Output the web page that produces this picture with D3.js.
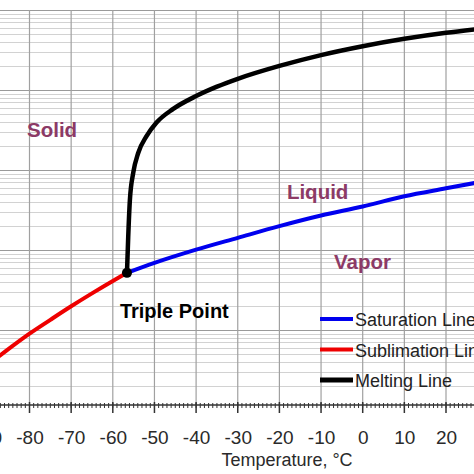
<!DOCTYPE html>
<html>
<head>
<meta charset="utf-8">
<script src="https://cdn.jsdelivr.net/npm/d3@7"></script>
<style>
  body { margin: 0; background: #fff; }
  svg { display: block; font-family: "Liberation Sans", Arial, sans-serif; }
</style>
</head>
<body>
<div id="chart"></div>
<script>
// temperature ticks (deg C), visible part of the axis
const tempTicks = [-90, -80, -70, -60, -50, -40, -30, -20, -10, 0, 10, 20, 30];

// pressure decades (bar), log axis, labels are cropped away
const pressureDecades = [0.1, 1, 10, 100, 1000, 10000];

// sublimation line, solid <-> vapor
const sublimationT = [-88, -85, -80, -75, -70, -65, -60, -56.6];
const sublimationP = [0.44, 0.58, 0.9, 1.34, 1.98, 2.87, 4.1, 5.18];

// saturation line, liquid <-> vapor
const saturationT = [-56.6, -50, -40, -30, -20, -10, 0, 10, 20, 27];
const saturationP = [5.18, 6.9, 10.1, 14.2, 19.9, 27, 35, 47, 59, 69];

// melting line, solid <-> liquid
const meltingT = [-56.6, -56.3, -55.9, -55.1, -53.9, -51.9, -49.5, -45.5, -40, -35, -30, -20, -10, 0, 10, 20, 27];
const meltingP = [5.18, 14.5, 42, 92, 163, 265, 392, 580, 840, 1100, 1380, 2000, 2730, 3525, 4365, 5190, 5740];

const triplePoint = [-56.6, 5.18];

const legendNames = ["Saturation Line", "Sublimation Line", "Melting Line"];
const legendColors = ["#0000ee", "#ee0000", "#000000"];

const width = 474;
const height = 474;
const plotTop = 10;
const plotBottom = 405;

const svg = d3.select("#chart")
  .append("svg")
  .attr("width", width)
  .attr("height", height);

// the chart is cropped, so the scales run past the picture edges
const x = d3.scaleLinear().domain([-80, 20]).range([29.5, 446]);
const y = d3.scaleLog().domain([0.1, 10000]).range([410, 10]);

svg.append("defs").append("clipPath")
  .attr("id", "plot-clip")
  .append("rect")
  .attr("x", 0).attr("y", plotTop - 1)
  .attr("width", width).attr("height", plotBottom - plotTop + 1);

const grid = svg.append("g").attr("clip-path", "url(#plot-clip)");

// minor horizontal grid (2..9 in every decade)
const minorP = [];
pressureDecades.slice(0, -1).forEach(d => {
  for (let k = 2; k <= 9; k++) minorP.push(d * k);
});
grid.selectAll(".hminor")
  .data(minorP)
  .enter().append("line")
  .attr("x1", 0).attr("x2", width)
  .attr("y1", d => Math.round(y(d)) + 0.5)
  .attr("y2", d => Math.round(y(d)) + 0.5)
  .attr("stroke", "#d2d2d2")
  .attr("stroke-width", 1);

// decade lines
grid.selectAll(".hmajor")
  .data(pressureDecades)
  .enter().append("line")
  .attr("x1", 0).attr("x2", width)
  .attr("y1", d => Math.round(y(d)) + 0.5)
  .attr("y2", d => Math.round(y(d)) + 0.5)
  .attr("stroke", "#9a9a9a")
  .attr("stroke-width", 1.2);

// vertical grid every 10 deg
grid.selectAll(".vline")
  .data(tempTicks)
  .enter().append("line")
  .attr("x1", d => x(d)).attr("x2", d => x(d))
  .attr("y1", plotTop).attr("y2", plotBottom)
  .attr("stroke", "#a0a0a0")
  .attr("stroke-width", 1.2);

// phase lines
const line = d3.line()
  .x(d => x(d[0]))
  .y(d => y(d[1]))
  .curve(d3.curveMonotoneX);

const curves = [
  { t: sublimationT, p: sublimationP, color: legendColors[1], w: 4 },
  { t: saturationT, p: saturationP, color: legendColors[0], w: 4 },
  { t: meltingT, p: meltingP, color: legendColors[2], w: 4.5 }
];

curves.forEach(c => {
  grid.append("path")
    .datum(c.t.map((t, i) => [t, c.p[i]]))
    .attr("d", line)
    .attr("fill", "none")
    .attr("stroke", c.color)
    .attr("stroke-width", c.w)
    .attr("stroke-linejoin", "round");
});

// triple point marker
grid.append("circle")
  .attr("cx", x(triplePoint[0]))
  .attr("cy", y(triplePoint[1]))
  .attr("r", 5)
  .attr("fill", "#000");

// region labels
const regionColor = "#8c3a66";
[["Solid", -80.6, 258], ["Liquid", -18.2, 43.4], ["Vapor", -6.9, 5.79]].forEach(r => {
  svg.append("text")
    .attr("x", x(r[1]))
    .attr("y", y(r[2]))
    .attr("fill", regionColor)
    .attr("font-size", "20.5px")
    .attr("font-weight", "bold")
    .text(r[0]);
});

svg.append("text")
  .attr("x", x(-58.3))
  .attr("y", y(1.41))
  .attr("fill", "#000")
  .attr("font-size", "20px")
  .attr("font-weight", "bold")
  .text("Triple Point");

// legend
const legend = svg.append("g").attr("transform", "translate(320,319)");
legendNames.forEach((name, i) => {
  const g = legend.append("g").attr("transform", `translate(0,${i * 30.5})`);
  g.append("line")
    .attr("x1", 0).attr("x2", 33)
    .attr("y1", 0).attr("y2", 0)
    .attr("stroke", legendColors[i])
    .attr("stroke-width", i === 2 ? 4.8 : 4.2);
  g.append("text")
    .attr("x", 35)
    .attr("y", 7)
    .attr("fill", "#222")
    .attr("font-size", "18px")
    .text(name);
});

// x axis
svg.append("line")
  .attr("x1", 0).attr("x2", width)
  .attr("y1", plotBottom).attr("y2", plotBottom)
  .attr("stroke", "#333")
  .attr("stroke-width", 1.5);

svg.selectAll(".minor-tick")
  .data(d3.range(-90, 31, 1))
  .enter().append("line")
  .attr("x1", d => x(d)).attr("x2", d => x(d))
  .attr("y1", plotBottom - 2).attr("y2", plotBottom + 3)
  .attr("stroke", "#333")
  .attr("stroke-width", 1);

svg.selectAll(".major-tick")
  .data(tempTicks)
  .enter().append("line")
  .attr("x1", d => x(d)).attr("x2", d => x(d))
  .attr("y1", plotBottom - 3).attr("y2", plotBottom + 8)
  .attr("stroke", "#333")
  .attr("stroke-width", 1.5);

const xAxis = svg.append("g")
  .attr("transform", `translate(0,${plotBottom})`)
  .call(d3.axisBottom(x).tickValues(tempTicks).tickSize(0).tickPadding(25.5).tickFormat(d => String(d)));
xAxis.select(".domain").remove();
xAxis.selectAll("text")
  .attr("font-size", "19px")
  .attr("font-family", "'Liberation Sans', Arial, sans-serif")
  .attr("fill", "#2a2a2a");

svg.append("text")
  .attr("x", 287)
  .attr("y", 466)
  .attr("text-anchor", "middle")
  .attr("fill", "#2a2a2a")
  .attr("font-size", "18px")
  .text("Temperature, °C");
</script>
</body>
</html>
